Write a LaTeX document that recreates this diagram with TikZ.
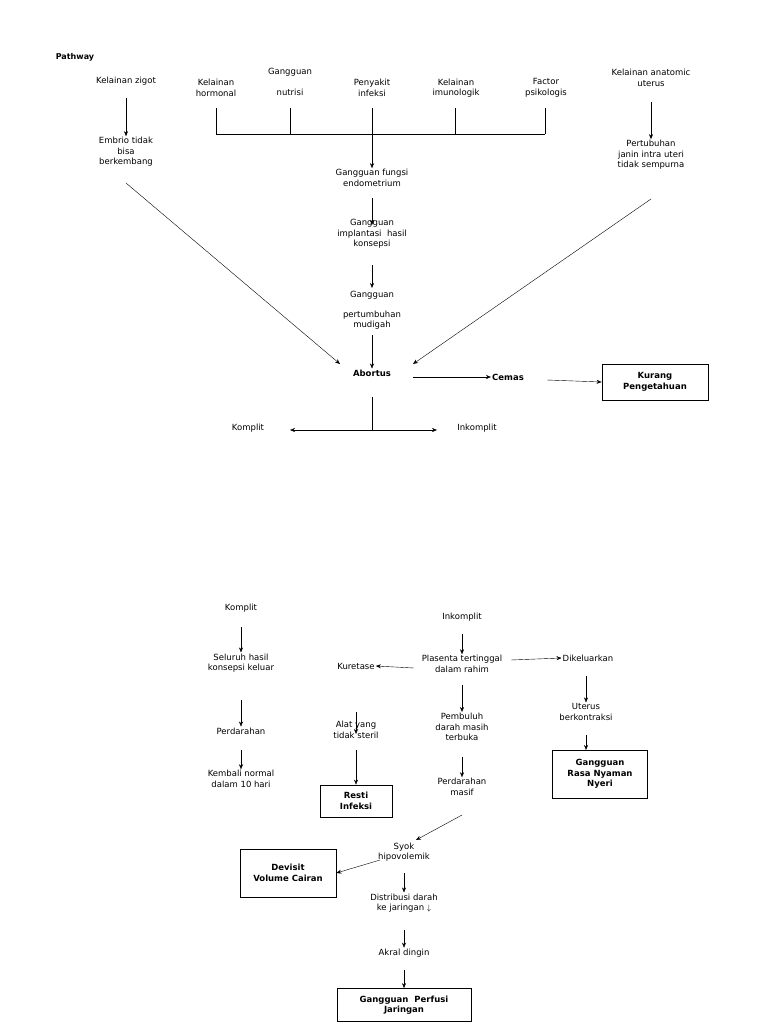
\documentclass[tikz,border=0pt]{standalone}
\usepackage{fontspec}
\setmainfont{DejaVu Sans}
\usetikzlibrary{arrows.meta}
\tikzset{
  txt/.style={align=center, font=\fontsize{8.5}{10.5}\selectfont, inner sep=1pt},
  bx/.style={draw, thick, align=center, font=\fontsize{8.5}{10.5}\selectfont\bfseries, inner sep=2pt},
  arr/.style={-{Stealth[length=5pt,width=4pt]}},
}
\begin{document}
\begin{tikzpicture}[x=1pt,y=-1pt]
    \useasboundingbox (0,0) rectangle (768,1024);
    % Upper pathway
    \node[font=\fontsize{8}{9}\selectfont\bfseries\rmfamily] (title) at (75,57) {Pathway};
    \node[txt] (zigot) at (126,81) {Kelainan zigot};
    \node[txt] (hormon) at (216,88) {Kelainan\\hormonal};
    \node[txt, align=center, font=\fontsize{8.5}{21}\selectfont] (nutrisi) at (290,82) {Gangguan\\nutrisi};
    \node[txt] (infeksi) at (372,88) {Penyakit\\infeksi};
    \node[txt] (imun) at (456,88) {Kelainan\\imunologik};
    \node[txt] (psiko) at (546,88) {Factor\\psikologis};
    \node[txt] (anatomi) at (651,78) {Kelainan anatomic\\uterus};
    \coordinate (barL) at (216,134);
    \coordinate (barR) at (545,134);
    \draw (barL) -- (barR);
    \draw (216,108) -- (barL);
    \draw (290,108) -- (290,134);
    \draw (455,108) -- (455,134);
    \draw (545,108) -- (barR);
    \node[txt] (embrio) at (126,152) {Embrio tidak\\bisa\\berkembang};
    \node[txt] (janin) at (651,155) {Pertubuhan\\janin intra uteri\\tidak sempurna};
    \node[txt] (endo) at (372,178) {Gangguan fungsi\\endometrium};
    \node[txt] (implan) at (372,234) {Gangguan\\implantasi~ hasil\\konsepsi};
    \node[txt] (gg) at (372,295) {Gangguan};
    \node[txt] (mudigah) at (372,320) {pertumbuhan\\mudigah};
    \node[txt, font=\fontsize{8.5}{10.5}\selectfont\bfseries] (abortus) at (372,373) {Abortus};
    \node[txt, font=\fontsize{8.5}{10.5}\selectfont\bfseries] (cemas) at (508,377) {Cemas};
    \node[bx, minimum width=106pt, minimum height=36pt] (kurang) at (655,382) {Kurang\\Pengetahuan};
    \node[txt] (komplit1) at (248,428) {Komplit};
    \node[txt] (inkomplit1) at (477,428) {Inkomplit};
    \draw[arr] (zigot.south) ++(0,12) -- (embrio.north);
    \draw[arr] (anatomi.south) ++(0,14) -- (janin.north);
    \draw[arr] (372,108) -- (endo.north);
    \draw[arr] (372,198) -- (372,225);
    \draw[arr] (372,265) -- (372,288);
    \draw[arr] (372,335) -- (abortus.north);
    \draw[arr] (126,183) -- (340,364);
    \draw[arr] (651,199) -- (413,364);
    \draw[arr] (413,377) -- (cemas.west);
    \draw[arr] (547,380) -- (kurang.west);
    \coordinate (split) at (372,430);
    \draw (372,397) -- (split);
    \draw[arr] (split) -- (290,430);
    \draw[arr] (split) -- (437,430);
    % Lower pathway
    \node[txt] (komplit) at (241,608) {Komplit};
    \node[txt] (seluruh) at (241,663) {Seluruh hasil\\konsepsi keluar};
    \node[txt] (perdarahan) at (241,731) {Perdarahan};
    \node[txt] (kembali) at (241,779) {Kembali normal\\dalam 10 hari};
    \draw[arr] (241,627) -- (seluruh.north);
    \draw[arr] (241,700) -- (perdarahan.north);
    \draw[arr] (241,750) -- (kembali.north);
    \node[txt] (inkomplit) at (462,617) {Inkomplit};
    \node[txt] (plasenta) at (462,664) {Plasenta tertinggal\\dalam rahim};
    \node[txt] (kuretase) at (356,666) {Kuretase};
    \node[txt] (dikeluarkan) at (588,658) {Dikeluarkan};
    \node[txt] (alat) at (356,730) {Alat yang\\tidak steril};
    \node[bx, minimum width=72pt, minimum height=32pt] (resti) at (356,801) {Resti\\Infeksi};
    \node[txt] (pembuluh) at (462,727) {Pembuluh\\darah masih\\terbuka};
    \node[txt] (masif) at (462,787) {Perdarahan\\masif};
    \node[txt] (uterus) at (586,712) {Uterus\\berkontraksi};
    \node[bx, minimum width=95pt, minimum height=48pt] (nyeri) at (600,774) {Gangguan\\Rasa Nyaman\\Nyeri};
    \node[txt] (syok) at (404,852) {Syok\\hipovolemik};
    \node[bx, minimum width=96pt, minimum height=48pt] (devisit) at (288,873) {Devisit\\Volume Cairan};
    \node[txt] (distribusi) at (404,903) {Distribusi darah\\ke jaringan $\downarrow$};
    \node[txt] (akral) at (404,953) {Akral dingin};
    \node[bx, minimum width=134pt, minimum height=33pt] (perfusi) at (404,1005) {Gangguan~ Perfusi\\Jaringan};
    \draw[arr] (462,634) -- (plasenta.north);
    \draw[arr] (414,668) -- (kuretase.east);
    \draw[arr] (511,660) -- (dikeluarkan.west);
    \draw[arr] (356,712) -- (356,734);
    \draw[arr] (356,750) -- (resti.north);
    \draw[arr] (462,685) -- (pembuluh.north);
    \draw[arr] (462,757) -- (masif.north);
    \draw[arr] (586,676) -- (uterus.north);
    \draw[arr] (586,735) -- (586,750);
    \draw[arr] (462,815) -- (416,840);
    \draw[arr] (380,860) -- (devisit.east);
    \draw[arr] (404,873) -- (distribusi.north);
    \draw[arr] (404,930) -- (akral.north);
    \draw[arr] (404,970) -- (perfusi.north);
\end{tikzpicture}
\end{document}
